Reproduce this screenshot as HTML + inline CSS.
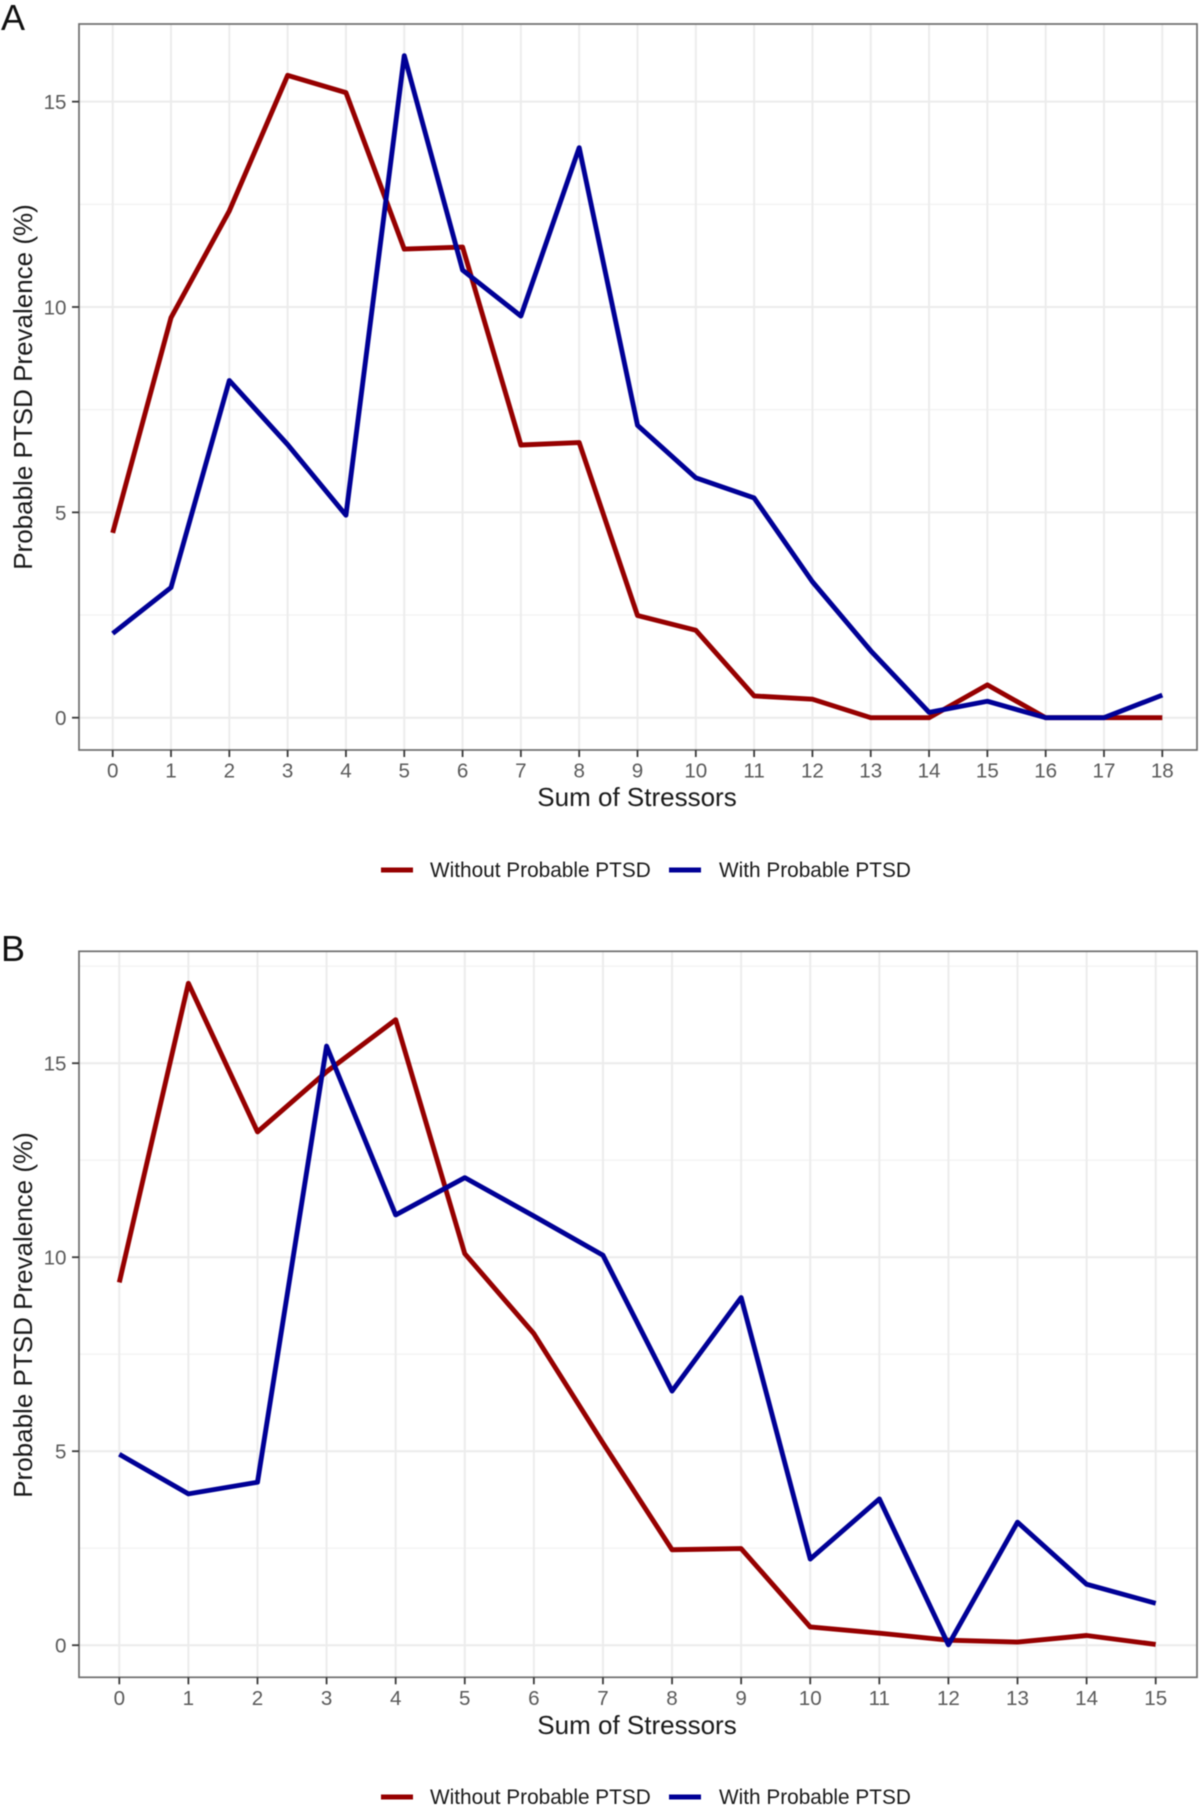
<!DOCTYPE html>
<html lang="en">
<head>
<meta charset="utf-8">
<title>Probable PTSD Prevalence by Sum of Stressors</title>
<style>
html,body{margin:0;padding:0;background:#fff;width:1200px;height:1807px;overflow:hidden}
svg{display:block;filter:blur(0.55px);font-family:"Liberation Sans",Arial,sans-serif}
.tick{font-size:20.6px;fill:#5a5a5a}
.title{font-size:26px;fill:#1a1a1a}
.legend{font-size:20.8px;fill:#1a1a1a}
.tag{font-size:36px;fill:#111}
</style>
</head>
<body>
<svg id="figure" xmlns="http://www.w3.org/2000/svg" width="1200" height="1807" viewBox="0 0 1200 1807">
  <rect x="0" y="0" width="1200" height="1807" fill="#fff"/>

  <g id="panelA"></g>
  <text class="tag" x="1" y="30">A</text>
  <text class="title" text-anchor="middle" transform="translate(32 387) rotate(-90)">Probable PTSD Prevalence (%)</text>
  <text class="title" text-anchor="middle" x="637" y="806">Sum of Stressors</text>
  <g>
    <line x1="381" y1="870" x2="413" y2="870" stroke="#960000" stroke-width="5"/>
    <text class="legend" x="430" y="877">Without Probable PTSD</text>
    <line x1="669" y1="870" x2="701" y2="870" stroke="#000096" stroke-width="5"/>
    <text class="legend" x="719" y="877">With Probable PTSD</text>
  </g>

  <g id="panelB"></g>
  <text class="tag" x="1" y="961">B</text>
  <text class="title" text-anchor="middle" transform="translate(32 1315) rotate(-90)">Probable PTSD Prevalence (%)</text>
  <text class="title" text-anchor="middle" x="637" y="1734">Sum of Stressors</text>
  <g>
    <line x1="381" y1="1797" x2="413" y2="1797" stroke="#960000" stroke-width="5"/>
    <text class="legend" x="430" y="1804">Without Probable PTSD</text>
    <line x1="669" y1="1797" x2="701" y2="1797" stroke="#000096" stroke-width="5"/>
    <text class="legend" x="719" y="1804">With Probable PTSD</text>
  </g>
</svg>

<script>
// Panel A data
const categoriesA = [0,1,2,3,4,5,6,7,8,9,10,11,12,13,14,15,16,17,18];
const withoutPtsdA = [4.50,9.74,12.34,15.64,15.22,11.41,11.46,6.64,6.70,2.49,2.13,0.53,0.45,0,0,0.80,0,0,0];
const withPtsdA = [2.05,3.17,8.21,6.65,4.93,16.12,10.90,9.78,13.88,7.12,5.84,5.35,3.31,1.63,0.13,0.40,0,0,0.55];
const yTicksA = [0,5,10,15];
const yMinorTicksA = [2.5,7.5,12.5];

// Panel B data
const categoriesB = [0,1,2,3,4,5,6,7,8,9,10,11,12,13,14,15];
const withoutPtsdB = [9.35,17.06,13.23,14.78,16.12,10.09,8.03,5.21,2.46,2.49,0.47,0.31,0.13,0.08,0.25,0.02];
const withPtsdB = [4.92,3.90,4.20,15.44,11.09,12.05,11.06,10.05,6.55,8.96,2.22,3.77,0.01,3.17,1.57,1.08];
const yTicksB = [0,5,10,15];
const yMinorTicksB = [2.5,7.5,12.5,17.5];

const SVG_NS = 'http://www.w3.org/2000/svg';

function make(tag, attrs, parent) {
  const el = document.createElementNS(SVG_NS, tag);
  for (const k in attrs) el.setAttribute(k, attrs[k]);
  parent.appendChild(el);
  return el;
}

function drawPanel(group, prefix, frame, categories, without, withP, yTicks, yMinor) {
  const cats = categories;
  const xStep = (frame.xLast - frame.xFirst) / (cats[cats.length - 1] - cats[0]);
  const xScale = function (c) { return frame.xFirst + (c - cats[0]) * xStep; };
  const yScale = function (v) { return frame.y0 - v * frame.yUnit; };

  // background gridlines
  yMinor.forEach(function (v) {
    const el = make('line', {x1: frame.left, x2: frame.right, y1: yScale(v), y2: yScale(v), stroke: '#f1f1f1', 'stroke-width': 1.2}, group);
    
    
  });
  yTicks.forEach(function (v) {
    const el = make('line', {x1: frame.left, x2: frame.right, y1: yScale(v), y2: yScale(v), stroke: '#ececec', 'stroke-width': 2}, group);
    
    
  });
  cats.forEach(function (c) {
    const el = make('line', {x1: xScale(c), x2: xScale(c), y1: frame.top, y2: frame.bottom, stroke: '#ececec', 'stroke-width': 2}, group);
    
    
  });

  // series
  const seriesDefs = [
    {values: without, color: '#960000', name: '-line-without-ptsd'},
    {values: withP, color: '#000096', name: '-line-with-ptsd'}
  ];
  seriesDefs.forEach(function (s) {
    const pts = s.values.map(function (v, i) { return xScale(cats[i]).toFixed(2) + ',' + yScale(v).toFixed(2); }).join(' ');
    const el = make('polyline', {points: pts, fill: 'none', stroke: s.color, 'stroke-width': 4.9, 'stroke-linejoin': 'round', 'stroke-linecap': 'butt'}, group);
    
    
  });

  // panel border
  const border = make('rect', {x: frame.left, y: frame.top, width: frame.right - frame.left, height: frame.bottom - frame.top, fill: 'none', stroke: '#6e6e6e', 'stroke-width': 1.7}, group);
  
  

  // y axis ticks
  yTicks.forEach(function (v) {
    const tick = make('line', {x1: frame.left - 7, x2: frame.left, y1: yScale(v), y2: yScale(v), stroke: '#3a3a3a', 'stroke-width': 1.8}, group);
    
    
    const label = make('text', {class: 'tick', x: frame.left - 12.5, y: yScale(v) + 7.4, 'text-anchor': 'end'}, group);
    
    
    label.textContent = String(v);
  });

  // x axis ticks
  cats.forEach(function (c) {
    const tick = make('line', {x1: xScale(c), x2: xScale(c), y1: frame.bottom, y2: frame.bottom + 7, stroke: '#3a3a3a', 'stroke-width': 1.8}, group);
    
    
    const label = make('text', {class: 'tick', x: xScale(c), y: frame.bottom + 27.5, 'text-anchor': 'middle'}, group);
    
    
    label.textContent = String(c);
  });
}

drawPanel(document.getElementById('panelA'), 'panel-a',
  {left: 79, right: 1197, top: 24, bottom: 750, xFirst: 112.7, xLast: 1162.3, y0: 717.7, yUnit: 41.07},
  categoriesA, withoutPtsdA, withPtsdA, yTicksA, yMinorTicksA);

drawPanel(document.getElementById('panelB'), 'panel-b',
  {left: 79, right: 1197, top: 951.3, bottom: 1677.3, xFirst: 119.3, xLast: 1155.7, y0: 1645.2, yUnit: 38.8},
  categoriesB, withoutPtsdB, withPtsdB, yTicksB, yMinorTicksB);
</script>
</body>
</html>
